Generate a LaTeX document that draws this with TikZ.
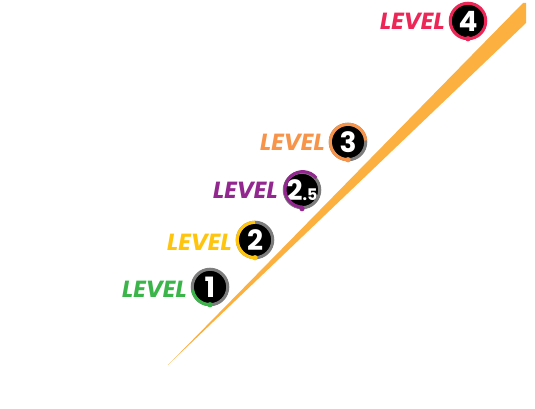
\documentclass[tikz,border=0pt]{standalone}
\usepackage{fontspec}
\setmainfont{Poppins}
\usetikzlibrary{positioning}
\definecolor{stripe}{HTML}{FBB040}
\definecolor{lvlgreen}{HTML}{3BB54A}
\definecolor{lvlyellow}{HTML}{FFC40D}
\definecolor{lvlpurple}{HTML}{92278F}
\definecolor{lvlorange}{HTML}{F7944A}
\definecolor{lvlred}{HTML}{EC2657}
\definecolor{ringgrey}{HTML}{7D7D7D}
\newcommand{\ringr}{13.3pt}

\begin{document}
\begin{tikzpicture}[
  x=0.75pt, y=0.75pt,
  badge/.style   = {circle, fill=black, minimum size=26.6pt, inner sep=0pt, outer sep=0pt, text=white, font=\fontsize{21}{21}\selectfont\bfseries},
  lvltext/.style = {inner sep=0pt, font=\fontsize{17.5}{17.5}\selectfont\bfseries\itshape},
  ring/.style    = {line width=2.3pt},
  tipdot/.style  = {circle, inner sep=0pt, minimum size=4pt}
]
\useasboundingbox (0,0) rectangle (535,409);

%% the rising stripe
\coordinate (tip)  at (168,44);
\coordinate (topl) at (523,406);
\coordinate (topr) at (526,406);
\coordinate (rbot) at (526,386);
\fill[stripe] (tip) -- (topl) -- (topr) -- (rbot) -- cycle;

%% badges
\node[badge] (lvlone)   at (210,122) {1};
\node[badge] (lvltwo)   at (255,169) {2};
\node[badge] (lvlhalf)  at (302,219) {2{\fontsize{12}{12}\selectfont.5}};
\node[badge] (lvlthree) at (348,267) {3};
\node[badge] (lvlfour)  at (468,388) {4};

%% labels
\node[lvltext, text=lvlgreen,  left=4pt of lvlone,   yshift=-1.5pt] (txtone)   {LEVEL};
\node[lvltext, text=lvlyellow, left=4pt of lvltwo,   yshift=-1.5pt] (txttwo)   {LEVEL};
\node[lvltext, text=lvlpurple, left=4pt of lvlhalf,  yshift=-0.5pt] (txthalf)  {LEVEL};
\node[lvltext, text=lvlorange, left=4pt of lvlthree, yshift=-0.5pt] (txtthree) {LEVEL};
\node[lvltext, text=lvlred,    left=4pt of lvlfour,  yshift=-0.5pt] (txtfour)  {LEVEL};

%% progress rings
\draw[ring, ringgrey] (lvlone)   circle[radius=\ringr];
\draw[ring, ringgrey] (lvltwo)   circle[radius=\ringr];
\draw[ring, ringgrey] (lvlhalf)  circle[radius=\ringr];
\draw[ring, ringgrey] (lvlthree) circle[radius=\ringr];
\draw[ring, lvlgreen]  (lvlone.190)  arc[start angle=190, end angle=270, radius=\ringr];
\draw[ring, lvlyellow] (lvltwo.90)   arc[start angle=90,  end angle=270, radius=\ringr];
\draw[ring, lvlpurple] (lvlhalf.40)  arc[start angle=40,  end angle=270, radius=\ringr];
\draw[ring, lvlorange] (lvlthree.5)  arc[start angle=5,   end angle=270, radius=\ringr];
\draw[ring, lvlred]    (lvlfour)     circle[radius=\ringr];

\node[tipdot, fill=lvlgreen]  at (lvlone.south)   {};
\node[tipdot, fill=lvlyellow] at (lvltwo.south)   {};
\node[tipdot, fill=lvlpurple] at (lvlhalf.south)  {};
\node[tipdot, fill=lvlorange] at (lvlthree.south) {};
\node[tipdot, fill=lvlred]    at (lvlfour.south)  {};
\end{tikzpicture}
\end{document}
